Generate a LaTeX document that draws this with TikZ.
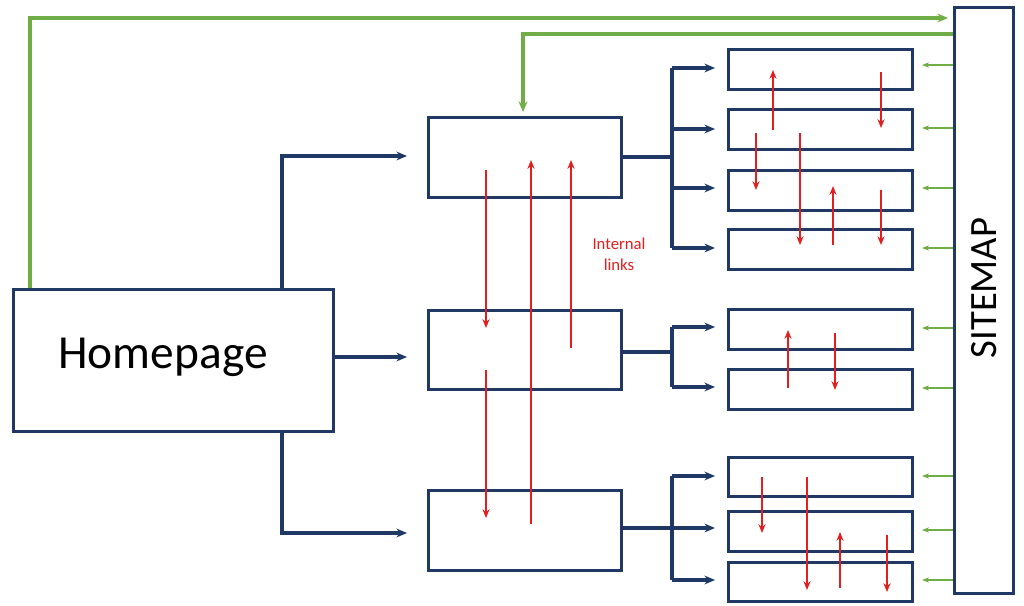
\documentclass[tikz,border=0pt]{standalone}
\usepackage{fontspec}
\setmainfont{Carlito}
\usetikzlibrary{arrows.meta}
\definecolor{navy}{RGB}{31,56,100}
\definecolor{grn}{RGB}{112,173,71}
\definecolor{rd}{RGB}{228,30,30}
\begin{document}
\begin{tikzpicture}[x=0.02cm,y=-0.02cm,
 box/.style={draw=navy,line width=1.8pt,inner sep=0,anchor=north west},
 nav/.style={draw=navy,line width=1.8pt,-{Stealth[length=6pt,width=5pt]}},
 navl/.style={draw=navy,line width=1.8pt},
 gr/.style={draw=grn,line width=1.8pt,-{Stealth[length=6pt,width=5pt]}},
 sg/.style={draw=grn,line width=0.6pt,-{Stealth[length=4pt,width=3pt]}},
 ra/.style={draw=rd,line width=0.9pt,-{Stealth[length=5pt,width=4pt]}}]
\useasboundingbox (0,0) rectangle (1024,605);
\newcommand{\bx}[5]{\node[box,minimum width={(#4-#2)*0.02cm},minimum height={(#5-#3)*0.02cm}] (#1) at (#2,#3) {};}
\bx{home}{12}{288}{332}{430}
\node[font=\fontsize{27}{30}\selectfont] (ht) at (163,357) {Homepage};
\bx{A}{427}{116}{620}{196}
\bx{B}{427}{309}{620}{388}
\bx{C}{427}{489}{620}{569}
\bx{r1}{727}{48}{911}{88}
\bx{r2}{727}{108}{911}{148}
\bx{r3}{727}{169}{911}{209}
\bx{r4}{727}{228}{911}{268}
\bx{r5}{727}{308}{911}{348}
\bx{r6}{727}{368}{911}{408}
\bx{r7}{727}{456}{911}{495}
\bx{r8}{727}{510}{911}{550}
\bx{r9}{727}{561}{911}{600}
\bx{sm}{953}{6}{1012}{592}
\node[rotate=90,font=\fontsize{22}{24}\selectfont] at (984,288) {SITEMAP};
\node[text=rd,align=center,font=\fontsize{9.5}{12}\selectfont] (il) at (619,254) {Internal\\links};
% homepage connectors
\draw[nav] (282,288) -- (282,156) -- (407,156);
\draw[nav] (332,357) -- (407,357);
\draw[nav] (282,430) -- (282,533) -- (407,533);
% fan outs
\draw[navl] (620,157) -- (672,157); \draw[navl] (672,68) -- (672,248);
\foreach \y in {68,129,188,248} \draw[nav] (672,\y) -- (715,\y);
\draw[navl] (620,352) -- (672,352); \draw[navl] (672,327) -- (672,387);
\foreach \y in {327,387} \draw[nav] (672,\y) -- (715,\y);
\draw[navl] (620,528) -- (672,528); \draw[navl] (672,476) -- (672,580);
\foreach \y in {476,528,580} \draw[nav] (672,\y) -- (715,\y);
% green
\draw[gr] (30,288) -- (30,18) -- (948,18);
\draw[gr] (953,34) -- (523,34) -- (523,112);
\foreach \y in {65,128,188,248,328,388,476,530,580} \draw[sg] (953,\y) -- (922,\y);
% red
\draw[ra] (486,170) -- (486,328);
\draw[ra] (531,524) -- (531,160);
\draw[ra] (571,348) -- (571,160);
\draw[ra] (486,370) -- (486,518);
\draw[ra] (773,130) -- (773,70);
\draw[ra] (881,72) -- (881,128);
\draw[ra] (756,133) -- (756,190);
\draw[ra] (800,133) -- (800,245);
\draw[ra] (833,245) -- (833,186);
\draw[ra] (881,190) -- (881,245);
\draw[ra] (788,388) -- (788,330);
\draw[ra] (835,333) -- (835,390);
\draw[ra] (762,477) -- (762,533);
\draw[ra] (807,477) -- (807,590);
\draw[ra] (840,588) -- (840,532);
\draw[ra] (887,535) -- (887,592);
\end{tikzpicture}
\end{document}
